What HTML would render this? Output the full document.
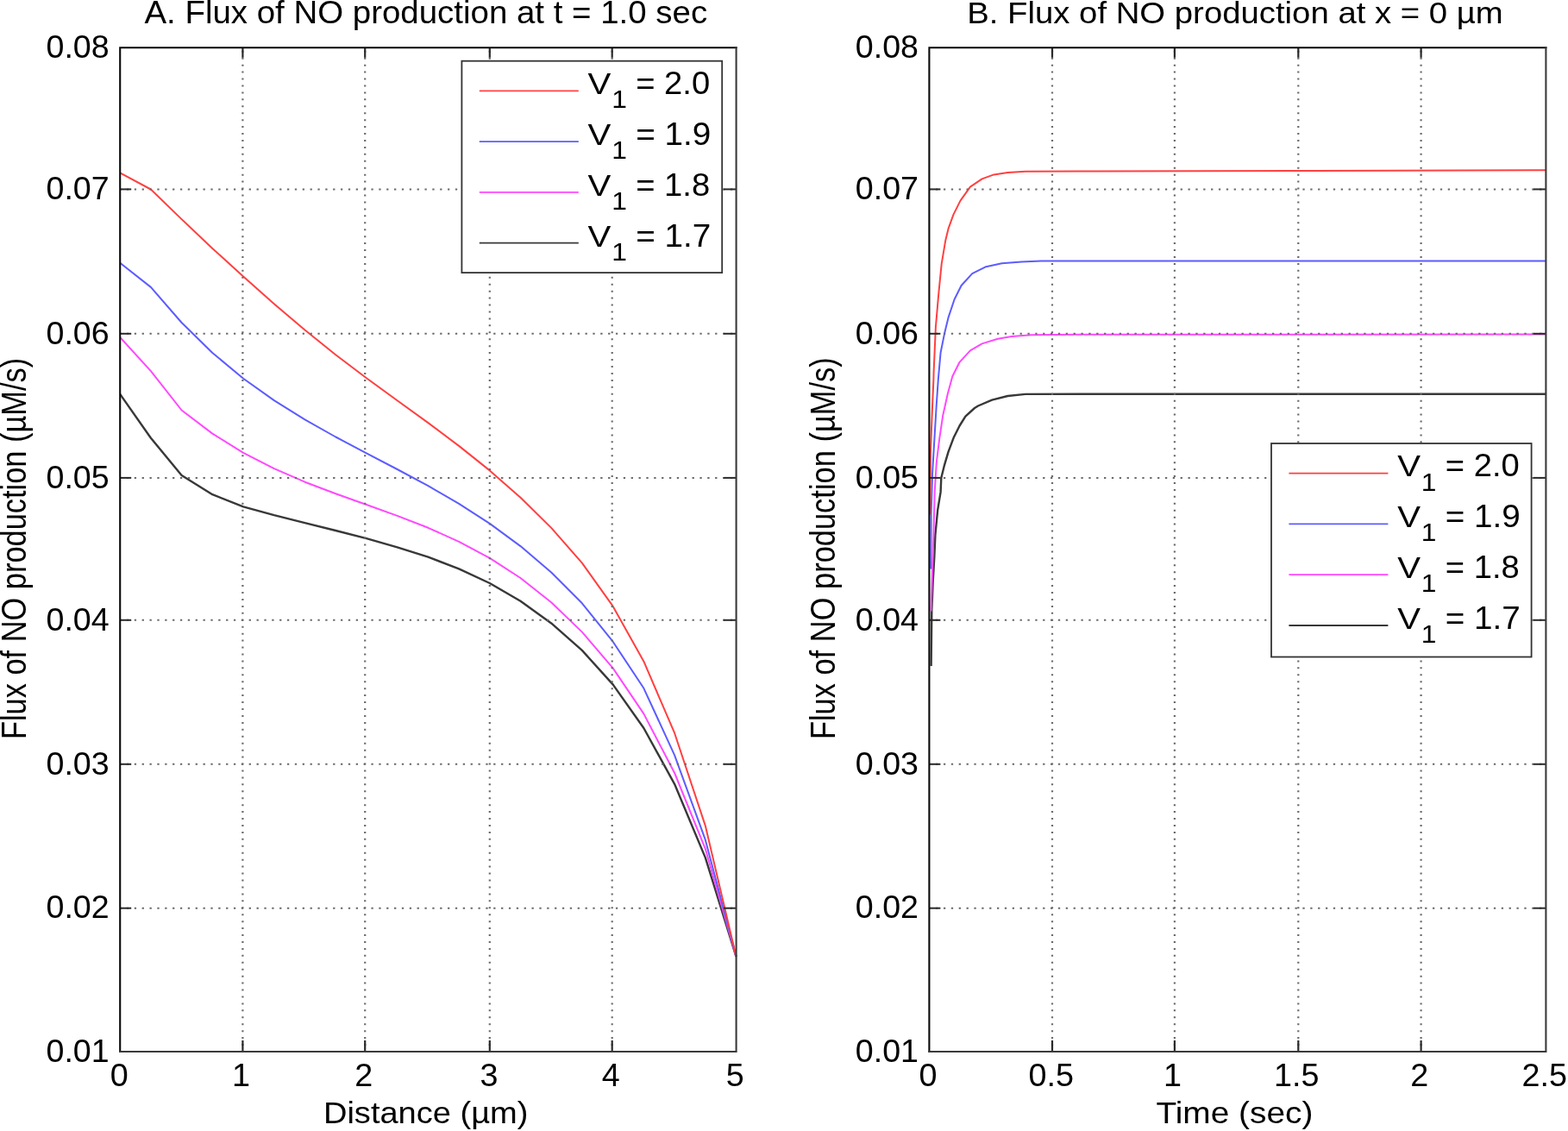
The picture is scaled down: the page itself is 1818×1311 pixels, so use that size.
<!DOCTYPE html>
<html><head><meta charset="utf-8"><title>Flux of NO production</title>
<style>html,body{margin:0;padding:0;background:#fff;}body{width:1818px;height:1311px;overflow:hidden;}svg{display:block;}text{font-family:"Liberation Sans",Arial,sans-serif;}</style>
</head><body>
<svg width="1818" height="1311" viewBox="0 0 1818 1311" font-family="Liberation Sans, Arial, sans-serif">
<rect width="1818" height="1311" fill="#fff"/>
<polyline points="139.2,456.9 174.9,507.7 210.6,551.0 246.3,573.2 282.1,587.3 317.8,597.2 353.5,606.2 389.2,615.0 424.9,624.2 460.6,634.3 496.4,645.7 532.1,659.3 567.8,676.0 603.5,696.8 639.2,722.4 674.9,753.9 710.6,793.4 746.4,844.0 782.1,908.8 817.8,994.1 853.5,1108.8" fill="none" stroke="#383838" stroke-width="2.4" stroke-linejoin="round" stroke-linecap="butt"/>
<polyline points="139.2,391.0 174.9,430.2 210.6,475.5 246.3,502.6 282.1,524.9 317.8,543.2 353.5,558.7 389.2,572.3 424.9,585.0 460.6,597.9 496.4,611.8 532.1,627.8 567.8,646.9 603.5,670.0 639.2,698.3 674.9,732.6 710.6,774.4 746.4,827.4 782.1,896.0 817.8,983.8 853.5,1108.8" fill="none" stroke="#ff48ff" stroke-width="2.0" stroke-linejoin="round" stroke-linecap="butt"/>
<polyline points="139.2,304.8 174.9,332.9 210.6,374.0 246.3,409.0 282.1,438.7 317.8,464.1 353.5,486.4 389.2,506.5 424.9,525.4 460.6,544.0 496.4,563.2 532.1,583.9 567.8,606.9 603.5,633.1 639.2,663.5 674.9,699.3 710.6,743.7 746.4,797.8 782.1,875.3 817.8,973.4 853.5,1108.8" fill="none" stroke="#5c5cff" stroke-width="2.0" stroke-linejoin="round" stroke-linecap="butt"/>
<polyline points="139.2,200.4 174.9,219.5 210.6,254.1 246.3,287.9 282.1,320.6 317.8,352.2 353.5,382.5 389.2,411.2 424.9,438.2 460.6,464.2 496.4,490.1 532.1,516.9 567.8,545.4 603.5,576.7 639.2,611.9 674.9,652.7 710.6,702.7 746.4,766.7 782.1,849.7 817.8,957.1 853.5,1108.8" fill="none" stroke="#ff4040" stroke-width="2.0" stroke-linejoin="round" stroke-linecap="butt"/>
<polyline points="1079.6,772.0 1080.3,706.9 1081.8,671.8 1083.3,645.8 1084.4,620.0 1087.2,591.0 1090.6,570.4 1091.3,554.0 1094.7,540.2 1099.5,523.8 1105.7,507.3 1112.6,493.5 1119.4,482.6 1130.0,473.0 1134.0,470.5 1150.1,463.6 1168.4,459.0 1188.9,456.9 1250.0,456.8 1792.0,456.8" fill="none" stroke="#383838" stroke-width="2.4" stroke-linejoin="round" stroke-linecap="butt"/>
<polyline points="1079.5,708.4 1082.4,620.0 1083.7,570.4 1085.8,536.1 1089.2,508.7 1093.3,481.2 1098.8,456.5 1104.3,436.2 1112.3,420.2 1124.9,406.4 1138.6,398.4 1156.9,392.7 1172.9,390.0 1195.8,388.3 1250.0,387.8 1792.0,387.6" fill="none" stroke="#ff48ff" stroke-width="2.0" stroke-linejoin="round" stroke-linecap="butt"/>
<polyline points="1079.3,659.5 1079.6,596.5 1081.0,549.8 1083.0,515.5 1085.8,468.8 1087.8,440.0 1090.6,408.7 1095.2,385.9 1099.7,367.6 1106.6,347.0 1114.6,331.0 1127.2,317.2 1143.2,309.2 1161.5,305.3 1184.4,303.5 1207.2,302.6 1792.0,302.4" fill="none" stroke="#5c5cff" stroke-width="2.0" stroke-linejoin="round" stroke-linecap="butt"/>
<polyline points="1078.2,596.5 1078.9,525.1 1081.0,471.6 1082.4,440.0 1082.6,431.6 1084.9,379.0 1088.3,340.1 1091.7,305.8 1096.3,278.4 1099.7,264.6 1105.5,248.6 1113.5,232.6 1124.9,216.6 1138.6,207.4 1152.3,202.4 1168.4,200.1 1188.9,198.8 1250.0,198.6 1500.0,198.0 1792.0,197.3" fill="none" stroke="#ff4040" stroke-width="2.0" stroke-linejoin="round" stroke-linecap="butt"/>
<line x1="139.2" y1="219.4" x2="853.6" y2="219.4" stroke="#6a6a6a" stroke-width="2" stroke-dasharray="2.3 6.56" stroke-dashoffset="1.15"/>
<line x1="139.2" y1="386.8" x2="853.6" y2="386.8" stroke="#6a6a6a" stroke-width="2" stroke-dasharray="2.3 6.56" stroke-dashoffset="1.15"/>
<line x1="139.2" y1="553.9" x2="853.6" y2="553.9" stroke="#6a6a6a" stroke-width="2" stroke-dasharray="2.3 6.56" stroke-dashoffset="1.15"/>
<line x1="139.2" y1="718.8" x2="853.6" y2="718.8" stroke="#6a6a6a" stroke-width="2" stroke-dasharray="2.3 6.56" stroke-dashoffset="1.15"/>
<line x1="139.2" y1="885.8" x2="853.6" y2="885.8" stroke="#6a6a6a" stroke-width="2" stroke-dasharray="2.3 6.56" stroke-dashoffset="1.15"/>
<line x1="139.2" y1="1052.7" x2="853.6" y2="1052.7" stroke="#6a6a6a" stroke-width="2" stroke-dasharray="2.3 6.56" stroke-dashoffset="1.15"/>
<line x1="281.4" y1="1219.0" x2="281.4" y2="55.3" stroke="#6a6a6a" stroke-width="2.2" stroke-dasharray="2 5.94" stroke-dashoffset="1"/>
<line x1="423.2" y1="1219.0" x2="423.2" y2="55.3" stroke="#6a6a6a" stroke-width="2.2" stroke-dasharray="2 5.94" stroke-dashoffset="1"/>
<line x1="567.8" y1="1219.0" x2="567.8" y2="55.3" stroke="#6a6a6a" stroke-width="2.2" stroke-dasharray="2 5.94" stroke-dashoffset="1"/>
<line x1="709.7" y1="1219.0" x2="709.7" y2="55.3" stroke="#6a6a6a" stroke-width="2.2" stroke-dasharray="2 5.94" stroke-dashoffset="1"/>
<line x1="1077.4" y1="219.4" x2="1792.4" y2="219.4" stroke="#6a6a6a" stroke-width="2" stroke-dasharray="2.3 6.56" stroke-dashoffset="1.15"/>
<line x1="1077.4" y1="386.8" x2="1792.4" y2="386.8" stroke="#6a6a6a" stroke-width="2" stroke-dasharray="2.3 6.56" stroke-dashoffset="1.15"/>
<line x1="1077.4" y1="553.9" x2="1792.4" y2="553.9" stroke="#6a6a6a" stroke-width="2" stroke-dasharray="2.3 6.56" stroke-dashoffset="1.15"/>
<line x1="1077.4" y1="718.8" x2="1792.4" y2="718.8" stroke="#6a6a6a" stroke-width="2" stroke-dasharray="2.3 6.56" stroke-dashoffset="1.15"/>
<line x1="1077.4" y1="885.8" x2="1792.4" y2="885.8" stroke="#6a6a6a" stroke-width="2" stroke-dasharray="2.3 6.56" stroke-dashoffset="1.15"/>
<line x1="1077.4" y1="1052.7" x2="1792.4" y2="1052.7" stroke="#6a6a6a" stroke-width="2" stroke-dasharray="2.3 6.56" stroke-dashoffset="1.15"/>
<line x1="1220.0" y1="1219.0" x2="1220.0" y2="55.3" stroke="#6a6a6a" stroke-width="2.2" stroke-dasharray="2 5.94" stroke-dashoffset="1"/>
<line x1="1361.9" y1="1219.0" x2="1361.9" y2="55.3" stroke="#6a6a6a" stroke-width="2.2" stroke-dasharray="2 5.94" stroke-dashoffset="1"/>
<line x1="1505.3" y1="1219.0" x2="1505.3" y2="55.3" stroke="#6a6a6a" stroke-width="2.2" stroke-dasharray="2 5.94" stroke-dashoffset="1"/>
<line x1="1647.6" y1="1219.0" x2="1647.6" y2="55.3" stroke="#6a6a6a" stroke-width="2.2" stroke-dasharray="2 5.94" stroke-dashoffset="1"/>
<line x1="139.2" y1="219.4" x2="152.2" y2="219.4" stroke="#2a2a2a" stroke-width="2"/>
<line x1="839.1" y1="219.4" x2="853.6" y2="219.4" stroke="#2a2a2a" stroke-width="2"/>
<line x1="139.2" y1="386.8" x2="152.2" y2="386.8" stroke="#2a2a2a" stroke-width="2"/>
<line x1="839.1" y1="386.8" x2="853.6" y2="386.8" stroke="#2a2a2a" stroke-width="2"/>
<line x1="139.2" y1="553.9" x2="152.2" y2="553.9" stroke="#2a2a2a" stroke-width="2"/>
<line x1="839.1" y1="553.9" x2="853.6" y2="553.9" stroke="#2a2a2a" stroke-width="2"/>
<line x1="139.2" y1="718.8" x2="152.2" y2="718.8" stroke="#2a2a2a" stroke-width="2"/>
<line x1="839.1" y1="718.8" x2="853.6" y2="718.8" stroke="#2a2a2a" stroke-width="2"/>
<line x1="139.2" y1="885.8" x2="152.2" y2="885.8" stroke="#2a2a2a" stroke-width="2"/>
<line x1="839.1" y1="885.8" x2="853.6" y2="885.8" stroke="#2a2a2a" stroke-width="2"/>
<line x1="139.2" y1="1052.7" x2="152.2" y2="1052.7" stroke="#2a2a2a" stroke-width="2"/>
<line x1="839.1" y1="1052.7" x2="853.6" y2="1052.7" stroke="#2a2a2a" stroke-width="2"/>
<line x1="281.4" y1="1219.0" x2="281.4" y2="1206.0" stroke="#2a2a2a" stroke-width="2.2"/>
<line x1="281.4" y1="55.3" x2="281.4" y2="66.8" stroke="#2a2a2a" stroke-width="2.2"/>
<line x1="423.2" y1="1219.0" x2="423.2" y2="1206.0" stroke="#2a2a2a" stroke-width="2.2"/>
<line x1="423.2" y1="55.3" x2="423.2" y2="66.8" stroke="#2a2a2a" stroke-width="2.2"/>
<line x1="567.8" y1="1219.0" x2="567.8" y2="1206.0" stroke="#2a2a2a" stroke-width="2.2"/>
<line x1="567.8" y1="55.3" x2="567.8" y2="66.8" stroke="#2a2a2a" stroke-width="2.2"/>
<line x1="709.7" y1="1219.0" x2="709.7" y2="1206.0" stroke="#2a2a2a" stroke-width="2.2"/>
<line x1="709.7" y1="55.3" x2="709.7" y2="66.8" stroke="#2a2a2a" stroke-width="2.2"/>
<path d="M139.2,1219.0 V55.3 H853.6" fill="none" stroke="#0a0a0a" stroke-width="2.1" stroke-linecap="square"/>
<path d="M139.2,1219.0 H853.6 V55.3" fill="none" stroke="#3a3a3a" stroke-width="2.1" stroke-linecap="square"/>
<line x1="1077.4" y1="219.4" x2="1090.4" y2="219.4" stroke="#2a2a2a" stroke-width="2"/>
<line x1="1777.9" y1="219.4" x2="1792.4" y2="219.4" stroke="#2a2a2a" stroke-width="2"/>
<line x1="1077.4" y1="386.8" x2="1090.4" y2="386.8" stroke="#2a2a2a" stroke-width="2"/>
<line x1="1777.9" y1="386.8" x2="1792.4" y2="386.8" stroke="#2a2a2a" stroke-width="2"/>
<line x1="1077.4" y1="553.9" x2="1090.4" y2="553.9" stroke="#2a2a2a" stroke-width="2"/>
<line x1="1777.9" y1="553.9" x2="1792.4" y2="553.9" stroke="#2a2a2a" stroke-width="2"/>
<line x1="1077.4" y1="718.8" x2="1090.4" y2="718.8" stroke="#2a2a2a" stroke-width="2"/>
<line x1="1777.9" y1="718.8" x2="1792.4" y2="718.8" stroke="#2a2a2a" stroke-width="2"/>
<line x1="1077.4" y1="885.8" x2="1090.4" y2="885.8" stroke="#2a2a2a" stroke-width="2"/>
<line x1="1777.9" y1="885.8" x2="1792.4" y2="885.8" stroke="#2a2a2a" stroke-width="2"/>
<line x1="1077.4" y1="1052.7" x2="1090.4" y2="1052.7" stroke="#2a2a2a" stroke-width="2"/>
<line x1="1777.9" y1="1052.7" x2="1792.4" y2="1052.7" stroke="#2a2a2a" stroke-width="2"/>
<line x1="1220.0" y1="1219.0" x2="1220.0" y2="1206.0" stroke="#2a2a2a" stroke-width="2.2"/>
<line x1="1220.0" y1="55.3" x2="1220.0" y2="66.8" stroke="#2a2a2a" stroke-width="2.2"/>
<line x1="1361.9" y1="1219.0" x2="1361.9" y2="1206.0" stroke="#2a2a2a" stroke-width="2.2"/>
<line x1="1361.9" y1="55.3" x2="1361.9" y2="66.8" stroke="#2a2a2a" stroke-width="2.2"/>
<line x1="1505.3" y1="1219.0" x2="1505.3" y2="1206.0" stroke="#2a2a2a" stroke-width="2.2"/>
<line x1="1505.3" y1="55.3" x2="1505.3" y2="66.8" stroke="#2a2a2a" stroke-width="2.2"/>
<line x1="1647.6" y1="1219.0" x2="1647.6" y2="1206.0" stroke="#2a2a2a" stroke-width="2.2"/>
<line x1="1647.6" y1="55.3" x2="1647.6" y2="66.8" stroke="#2a2a2a" stroke-width="2.2"/>
<path d="M1077.4,1219.0 V55.3 H1792.4" fill="none" stroke="#0a0a0a" stroke-width="2.1" stroke-linecap="square"/>
<path d="M1077.4,1219.0 H1792.4 V55.3" fill="none" stroke="#3a3a3a" stroke-width="2.1" stroke-linecap="square"/>
<text transform="translate(53.50,67.00) scale(1.03,1)" font-size="36.5">0.08</text>
<text transform="translate(991.80,67.00) scale(1.03,1)" font-size="36.5">0.08</text>
<text transform="translate(53.50,231.10) scale(1.03,1)" font-size="36.5">0.07</text>
<text transform="translate(991.80,231.10) scale(1.03,1)" font-size="36.5">0.07</text>
<text transform="translate(53.50,398.50) scale(1.03,1)" font-size="36.5">0.06</text>
<text transform="translate(991.80,398.50) scale(1.03,1)" font-size="36.5">0.06</text>
<text transform="translate(53.50,565.60) scale(1.03,1)" font-size="36.5">0.05</text>
<text transform="translate(991.80,565.60) scale(1.03,1)" font-size="36.5">0.05</text>
<text transform="translate(53.50,730.50) scale(1.03,1)" font-size="36.5">0.04</text>
<text transform="translate(991.80,730.50) scale(1.03,1)" font-size="36.5">0.04</text>
<text transform="translate(53.50,897.50) scale(1.03,1)" font-size="36.5">0.03</text>
<text transform="translate(991.80,897.50) scale(1.03,1)" font-size="36.5">0.03</text>
<text transform="translate(53.50,1064.40) scale(1.03,1)" font-size="36.5">0.02</text>
<text transform="translate(991.80,1064.40) scale(1.03,1)" font-size="36.5">0.02</text>
<text transform="translate(53.50,1230.70) scale(1.03,1)" font-size="36.5">0.01</text>
<text transform="translate(991.80,1230.70) scale(1.03,1)" font-size="36.5">0.01</text>
<text transform="translate(127.85,1259.30) scale(1.0350,1)" font-size="36.5">0</text>
<text transform="translate(269.01,1259.30) scale(1.0350,1)" font-size="36.5">1</text>
<text transform="translate(411.33,1259.30) scale(1.0350,1)" font-size="36.5">2</text>
<text transform="translate(556.45,1259.30) scale(1.0350,1)" font-size="36.5">3</text>
<text transform="translate(697.83,1259.30) scale(1.0350,1)" font-size="36.5">4</text>
<text transform="translate(841.73,1259.30) scale(1.0350,1)" font-size="36.5">5</text>
<text transform="translate(1065.55,1259.30) scale(1.0350,1)" font-size="36.5">0</text>
<text transform="translate(1192.62,1259.30) scale(1.0350,1)" font-size="36.5">0.5</text>
<text transform="translate(1349.02,1259.30) scale(1.0350,1)" font-size="36.5">1</text>
<text transform="translate(1476.89,1259.30) scale(1.0350,1)" font-size="36.5">1.5</text>
<text transform="translate(1635.23,1259.30) scale(1.0350,1)" font-size="36.5">2</text>
<text transform="translate(1764.51,1259.30) scale(1.0350,1)" font-size="36.5">2.5</text>
<text transform="translate(167.40,26.60) scale(1.0680,1)" font-size="36" fill="#000">A. Flux of NO production at t = 1.0 sec</text>
<text transform="translate(1121.21,26.60) scale(1.0646,1)" font-size="36" fill="#000">B. Flux of NO production at x = 0 µm</text>
<text transform="translate(374.93,1302.30) scale(1.0573,1)" font-size="36" fill="#000">Distance (µm)</text>
<text transform="translate(1340.42,1302.20) scale(1.0789,1)" font-size="36" fill="#000">Time (sec)</text>
<text transform="translate(29.90,857.07) scale(1.1426,0.9559) rotate(-90)" font-size="36">Flux of NO production (µM/s)</text>
<text transform="translate(967.60,857.07) scale(1.1224,0.9568) rotate(-90)" font-size="36">Flux of NO production (µM/s)</text>
<rect x="535.4" y="70.7" width="301.8" height="245.4" fill="#fff" stroke="#333" stroke-width="1.8"/>
<line x1="555.8" y1="105.3" x2="670.8" y2="105.3" stroke="#ff4040" stroke-width="1.8"/>
<text transform="translate(681.60,109.10) scale(1.1167,1)" font-size="36" fill="#000">V</text>
<text transform="translate(709.19,125.30) scale(1.0600,1)" font-size="30">1</text>
<text transform="translate(737.18,109.10) scale(1.0603,1)" font-size="36" fill="#000">= 2.0</text>
<line x1="555.8" y1="164.1" x2="670.8" y2="164.1" stroke="#5c5cff" stroke-width="1.8"/>
<text transform="translate(681.60,167.90) scale(1.1167,1)" font-size="36" fill="#000">V</text>
<text transform="translate(709.19,184.10) scale(1.0600,1)" font-size="30">1</text>
<text transform="translate(737.15,167.90) scale(1.0740,1)" font-size="36" fill="#000">= 1.9</text>
<line x1="555.8" y1="222.9" x2="670.8" y2="222.9" stroke="#ff48ff" stroke-width="1.8"/>
<text transform="translate(681.60,226.70) scale(1.1167,1)" font-size="36" fill="#000">V</text>
<text transform="translate(709.19,242.90) scale(1.0600,1)" font-size="30">1</text>
<text transform="translate(737.18,226.70) scale(1.0603,1)" font-size="36" fill="#000">= 1.8</text>
<line x1="555.8" y1="281.7" x2="670.8" y2="281.7" stroke="#383838" stroke-width="1.8"/>
<text transform="translate(681.60,285.50) scale(1.1167,1)" font-size="36" fill="#000">V</text>
<text transform="translate(709.19,301.70) scale(1.0600,1)" font-size="30">1</text>
<text transform="translate(737.15,285.50) scale(1.0740,1)" font-size="36" fill="#000">= 1.7</text>
<rect x="1474.0" y="514.0" width="301.6" height="247.5" fill="#fff" stroke="#333" stroke-width="1.8"/>
<line x1="1494.4" y1="548.6" x2="1609.4" y2="548.6" stroke="#ff4040" stroke-width="1.8"/>
<text transform="translate(1620.20,552.40) scale(1.1167,1)" font-size="36" fill="#000">V</text>
<text transform="translate(1647.79,568.60) scale(1.0600,1)" font-size="30">1</text>
<text transform="translate(1675.78,552.40) scale(1.0603,1)" font-size="36" fill="#000">= 2.0</text>
<line x1="1494.4" y1="607.4" x2="1609.4" y2="607.4" stroke="#5c5cff" stroke-width="1.8"/>
<text transform="translate(1620.20,611.20) scale(1.1167,1)" font-size="36" fill="#000">V</text>
<text transform="translate(1647.79,627.40) scale(1.0600,1)" font-size="30">1</text>
<text transform="translate(1675.75,611.20) scale(1.0740,1)" font-size="36" fill="#000">= 1.9</text>
<line x1="1494.4" y1="666.2" x2="1609.4" y2="666.2" stroke="#ff48ff" stroke-width="1.8"/>
<text transform="translate(1620.20,670.00) scale(1.1167,1)" font-size="36" fill="#000">V</text>
<text transform="translate(1647.79,686.20) scale(1.0600,1)" font-size="30">1</text>
<text transform="translate(1675.78,670.00) scale(1.0603,1)" font-size="36" fill="#000">= 1.8</text>
<line x1="1494.4" y1="725.0" x2="1609.4" y2="725.0" stroke="#383838" stroke-width="1.8"/>
<text transform="translate(1620.20,728.80) scale(1.1167,1)" font-size="36" fill="#000">V</text>
<text transform="translate(1647.79,745.00) scale(1.0600,1)" font-size="30">1</text>
<text transform="translate(1675.75,728.80) scale(1.0740,1)" font-size="36" fill="#000">= 1.7</text>
</svg>
</body></html>
